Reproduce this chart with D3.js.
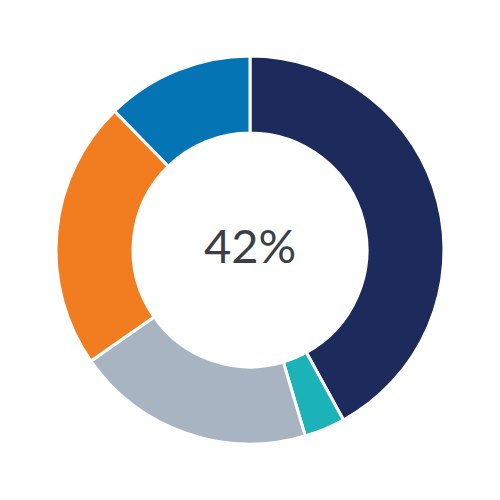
<!DOCTYPE html>
<html>
<head>
<meta charset="utf-8">
<script src="https://cdn.jsdelivr.net/npm/d3@7"></script>
<style>
  html, body { margin: 0; padding: 0; background: #fff; }
</style>
</head>
<body>
<div id="chart"></div>
<script>
    // Data, clockwise from 12 o'clock
    const categories = ["A", "B", "C", "D", "E"];
    const values = [42, 3.4, 19.9, 22.4, 12.3];
    const colors = ["#1c2b5b", "#1bb3b7", "#a9b4c3", "#f27d20", "#0474b4"];
    const centerLabel = "42%";

    const w = 500;
    const h = 500;
    const outerR = 194;
    const innerR = 117;

    const svg = d3.select("#chart")
        .append("svg")
        .attr("width", w)
        .attr("height", h);

    const g = svg.append("g")
        .attr("transform", `translate(${w / 2}, ${h / 2})`);

    const pie = d3.pie()
        .sort(null)
        .value(d => d.value);

    const arc = d3.arc()
        .innerRadius(innerR)
        .outerRadius(outerR);

    const data = categories.map((c, i) => ({ name: c, value: values[i], color: colors[i] }));

    // slices, white stroke makes the gaps between them
    g.selectAll("path")
        .data(pie(data))
        .enter()
        .append("path")
        .attr("d", arc)
        .attr("fill", d => d.data.color)
        .attr("stroke", "#fff")
        .attr("stroke-width", 3)
        .attr("stroke-linejoin", "miter");

    // big number in the hole
    g.append("text")
        .attr("text-anchor", "middle")
        .attr("y", -3)
        .attr("dy", "0.35em")
        .attr("font-family", "Lato, sans-serif")
        .attr("font-size", 47)
        .attr("fill", "#3b4047")
        .text(centerLabel);
</script>
</body>
</html>
